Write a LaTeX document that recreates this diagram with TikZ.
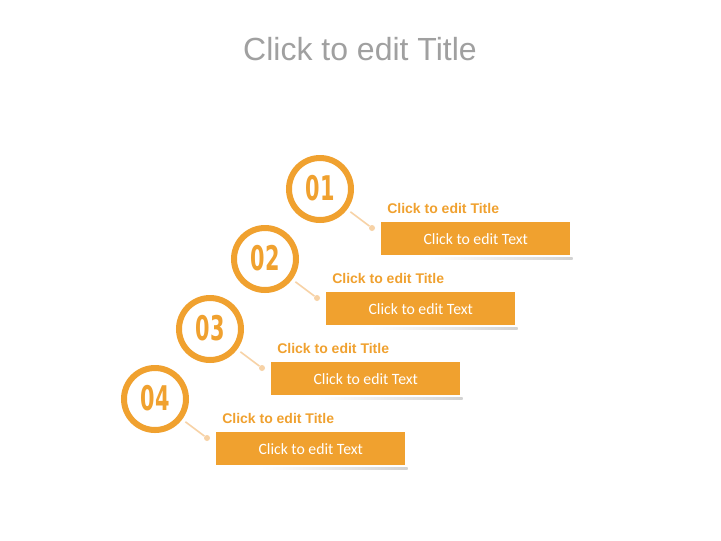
\documentclass[tikz,border=0pt]{standalone}
\usepackage{fontspec}
\setmainfont{Liberation Sans}
\newfontfamily\bodyfont{Carlito}
\newfontfamily\numfont{DejaVu Sans Condensed}
\usetikzlibrary{calc}
\definecolor{orng}{HTML}{F0A12F}
\definecolor{peach}{HTML}{F7D2A6}
\definecolor{ttlgray}{HTML}{A0A0A0}
\tikzset{
  ring/.style={circle, draw=orng, fill=white, line width=4.5pt, minimum size=46.5pt, inner sep=0pt},
  numtext/.style={text=orng, font=\numfont\bfseries\fontsize{25.5}{26}\selectfont},
  dotmark/.style={circle, fill=peach, inner sep=0pt, minimum size=4.5pt},
  link/.style={peach, line width=1.2pt, shorten <=3pt},
  textbox/.style={fill=orng, minimum width=141.75pt, minimum height=24.75pt, inner sep=0pt, anchor=north west, text=white, font=\bodyfont\fontsize{11.8}{13}\selectfont},
  headtext/.style={anchor=west, inner sep=0pt, text=orng, font=\bfseries\fontsize{10.5}{12}\selectfont}
}
\begin{document}
\begin{tikzpicture}[x=0.75pt,y=-0.75pt]
\useasboundingbox (0,0) rectangle (721,540);
\fill[white] (0,0) rectangle (721,540);
\node[font=\fontsize{24}{28}\selectfont, text=ttlgray] (title) at (360,49) {Click to edit Title};
\foreach \i/\n in {0/01,1/02,2/03,3/04}{
  \begin{scope}[shift={(-55*\i,70*\i)}]
    \node[dotmark] (dot\n) at (372,228) {};
    \node[ring] (c\n) at (320,189) {};
    \draw[link] (c\n) -- (dot\n);
    \node[numtext] (num\n) at ($(c\n.center)+(0,-1)$) {\scalebox{0.68}[1]{\n}};
    \node[textbox] (box\n) at (381,222) {Click to edit Text};
    \shade[left color=white, right color=gray!35] ($(box\n.south west)+(45,2)$) rectangle ($(box\n.south east)+(2,4)$);
    \node[headtext] (hd\n) at (387,208) {Click to edit Title};
  \end{scope}
}
\end{tikzpicture}
\end{document}
